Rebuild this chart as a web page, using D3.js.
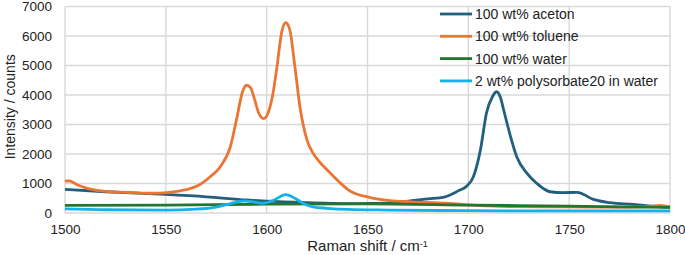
<!DOCTYPE html>
<html>
<head>
<meta charset="utf-8">
<script src="https://cdn.jsdelivr.net/npm/d3@7"></script>
<style>
  body { margin: 0; background: #fff; }
  text { font-family: "Liberation Sans", Arial, sans-serif; fill: #222; }
</style>
</head>
<body>
<div id="chart"></div>
<script>
// values
const acetonShift = [1500,1520,1550,1570,1590,1600,1620,1640,1660,1672,1680,1688,1695,1699,1702.5,1706,1709,1712,1714,1716,1717.5,1720.5,1724,1729,1734,1740.5,1747,1754,1762,1770,1782,1795,1800];
const acetonCounts = [800,720,630,550,440,400,350,320,330,420,480,540,750,900,1230,2140,3390,3950,4110,3900,3500,2700,1910,1350,1000,720,690,700,460,350,290,210,200];

const tolueneShift = [1500,1502,1506,1512,1520,1530,1542,1552,1560,1566,1572,1577,1582,1585,1588,1590,1592,1594,1596,1598.5,1601,1603,1605,1607.5,1609.5,1611.5,1614,1616.5,1620,1623,1626,1630,1636,1641,1651,1661,1672,1689,1706,1720,1740,1760,1780,1790,1795,1800];
const tolueneCounts = [1080,1090,960,820,730,700,670,700,790,930,1230,1570,2250,3150,4100,4330,4250,3850,3400,3200,3450,4000,4900,6150,6450,6200,4960,3600,2470,2030,1750,1460,1050,760,530,420,380,330,250,220,210,200,200,230,260,200];

const waterShift = [1500,1550,1600,1650,1700,1750,1800];
const waterCounts = [260,270,300,310,270,230,190];

const polyShift = [1500,1520,1550,1565,1575,1582,1589,1594,1598,1603,1609.5,1614,1618,1623,1630,1640,1660,1700,1750,1800];
const polyCounts = [140,110,100,130,200,320,410,370,330,420,620,500,330,210,160,120,100,80,70,70];

const seriesNames = ["100 wt% aceton", "100 wt% toluene", "100 wt% water", "2 wt% polysorbate20 in water"];
const seriesColors = ["#215f7e", "#ea7535", "#23762f", "#14b1ea"];
const xTicks = [1500, 1550, 1600, 1650, 1700, 1750, 1800];
const yTicks = [0, 1000, 2000, 3000, 4000, 5000, 6000, 7000];

const width = 685,
    height = 255,
    margin = ({top: 6.5, right: 15, bottom: 42, left: 65});

const svg = d3.select("#chart")
    .append("svg")
    .attr("width", width)
    .attr("height", height);

const x = d3.scaleLinear()
    .domain([1500, 1800])
    .range([margin.left, width - margin.right]);

const y = d3.scaleLinear()
    .domain([0, 7000])
    .range([height - margin.bottom, margin.top]);

// grid
svg.append("g")
    .selectAll("line")
    .data(yTicks)
    .join("line")
    .attr("x1", x(1500)).attr("x2", x(1800))
    .attr("y1", d => y(d)).attr("y2", d => y(d))
    .attr("stroke", "#d9d9d9").attr("stroke-width", 1.4);

svg.append("g")
    .selectAll("line")
    .data(xTicks)
    .join("line")
    .attr("x1", d => x(d)).attr("x2", d => x(d))
    .attr("y1", y(7000)).attr("y2", y(0))
    .attr("stroke", "#d9d9d9").attr("stroke-width", 1.4);

// axes (labels only)
const xAxis = g => g
    .attr("transform", `translate(0,${y(0)})`)
    .call(d3.axisBottom(x).tickValues(xTicks).tickFormat(d3.format("d")).tickSize(0).tickPadding(11))
    .call(g => g.select(".domain").remove());

const yAxis = g => g
    .attr("transform", `translate(${x(1500)},0)`)
    .call(d3.axisLeft(y).tickValues(yTicks).tickFormat(d3.format("d")).tickSize(0).tickPadding(13))
    .call(g => g.select(".domain").remove());

svg.append("g").call(xAxis);
svg.append("g").call(yAxis);
svg.selectAll(".tick text")
    .style("font-size", "13.5px")
    .style("font-family", '"Liberation Sans", Arial, sans-serif')
    .attr("fill", "#222");

// lines
const series = [
    {shift: acetonShift, counts: acetonCounts},
    {shift: tolueneShift, counts: tolueneCounts},
    {shift: waterShift, counts: waterCounts},
    {shift: polyShift, counts: polyCounts}
];

const line = d3.line()
    .x(d => x(d[0]))
    .y(d => y(d[1]))
    .curve(d3.curveMonotoneX);

series.forEach((s, i) => {
    svg.append("path")
        .attr("fill", "none")
        .attr("stroke", seriesColors[i])
        .attr("stroke-width", 2.8)
        .attr("stroke-linejoin", "round")
        .attr("d", line(s.shift.map((v, j) => [v, s.counts[j]])));
});

// legend
const legend = svg.append("g")
    .selectAll("g")
    .data(seriesNames)
    .join("g")
    .attr("transform", (d, i) => `translate(440,${14 + i * 22.3})`);

legend.append("line")
    .attr("x1", 0).attr("x2", 32)
    .attr("stroke", (d, i) => seriesColors[i])
    .attr("stroke-width", 2.8);

legend.append("text")
    .attr("x", 35)
    .attr("dy", "0.35em")
    .style("font-size", "14px")
    .text(d => d);

// titles
svg.append("text")
    .attr("transform", `translate(15,${(y(0) + y(7000)) / 2 - 3}) rotate(-90)`)
    .attr("text-anchor", "middle")
    .style("font-size", "14px")
    .text("Intensity / counts");

const xt = svg.append("text")
    .attr("x", (x(1500) + x(1800)) / 2)
    .attr("y", 251)
    .attr("text-anchor", "middle")
    .style("font-size", "15px");
xt.append("tspan").text("Raman shift / cm");
xt.append("tspan").attr("dy", "-0.45em").style("font-size", "9px").text("-1");
</script>
</body>
</html>
